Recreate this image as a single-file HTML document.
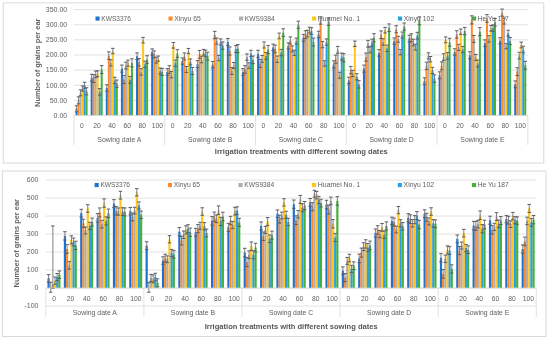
<!DOCTYPE html><html><head><meta charset="utf-8"><title>Grains per ear</title><style>html,body{margin:0;padding:0;background:#fff}svg{display:block}</style></head><body>
<svg width="550" height="342" viewBox="0 0 550 342">
<rect width="550" height="342" fill="#fff"/>
<defs><filter id="soft" x="0" y="0" width="550" height="342" filterUnits="userSpaceOnUse"><feGaussianBlur stdDeviation="0.25"/></filter></defs>
<g filter="url(#soft)">
<rect x="3.3" y="2.9" width="540.50" height="160.10" fill="#fff" stroke="#d9d9d9" stroke-width="1"/>
<line x1="74.0" x2="527.8" y1="115.50" y2="115.50" stroke="#d9d9d9" stroke-width="0.8"/>
<text x="67.2" y="117.85" text-anchor="end" font-size="7" fill="#5e5e5e" font-family="'Liberation Sans', sans-serif">0.00</text>
<line x1="74.0" x2="527.8" y1="100.37" y2="100.37" stroke="#d9d9d9" stroke-width="0.8"/>
<text x="67.2" y="102.72" text-anchor="end" font-size="7" fill="#5e5e5e" font-family="'Liberation Sans', sans-serif">50.00</text>
<line x1="74.0" x2="527.8" y1="85.24" y2="85.24" stroke="#d9d9d9" stroke-width="0.8"/>
<text x="67.2" y="87.59" text-anchor="end" font-size="7" fill="#5e5e5e" font-family="'Liberation Sans', sans-serif">100.00</text>
<line x1="74.0" x2="527.8" y1="70.11" y2="70.11" stroke="#d9d9d9" stroke-width="0.8"/>
<text x="67.2" y="72.46" text-anchor="end" font-size="7" fill="#5e5e5e" font-family="'Liberation Sans', sans-serif">150.00</text>
<line x1="74.0" x2="527.8" y1="54.98" y2="54.98" stroke="#d9d9d9" stroke-width="0.8"/>
<text x="67.2" y="57.33" text-anchor="end" font-size="7" fill="#5e5e5e" font-family="'Liberation Sans', sans-serif">200.00</text>
<line x1="74.0" x2="527.8" y1="39.85" y2="39.85" stroke="#d9d9d9" stroke-width="0.8"/>
<text x="67.2" y="42.20" text-anchor="end" font-size="7" fill="#5e5e5e" font-family="'Liberation Sans', sans-serif">250.00</text>
<line x1="74.0" x2="527.8" y1="24.72" y2="24.72" stroke="#d9d9d9" stroke-width="0.8"/>
<text x="67.2" y="27.07" text-anchor="end" font-size="7" fill="#5e5e5e" font-family="'Liberation Sans', sans-serif">300.00</text>
<line x1="74.0" x2="527.8" y1="9.59" y2="9.59" stroke="#d9d9d9" stroke-width="0.8"/>
<text x="67.2" y="11.94" text-anchor="end" font-size="7" fill="#5e5e5e" font-family="'Liberation Sans', sans-serif">350.00</text>
<rect x="95.5" y="16.5" width="4.1" height="4.1" fill="#1b72d0"/>
<text x="101.30" y="20.90" font-size="7.2" fill="#5e5e5e" textLength="29.6" lengthAdjust="spacingAndGlyphs" font-family="'Liberation Sans', sans-serif">KWS3376</text>
<rect x="168.5" y="16.5" width="4.1" height="4.1" fill="#ff8a2a"/>
<text x="174.30" y="20.90" font-size="7.2" fill="#5e5e5e" textLength="26.4" lengthAdjust="spacingAndGlyphs" font-family="'Liberation Sans', sans-serif">Xinyu 65</text>
<rect x="239" y="16.5" width="4.1" height="4.1" fill="#adadb2"/>
<text x="244.80" y="20.90" font-size="7.2" fill="#5e5e5e" textLength="29.9" lengthAdjust="spacingAndGlyphs" font-family="'Liberation Sans', sans-serif">KWS9384</text>
<rect x="312" y="16.5" width="4.1" height="4.1" fill="#ffc61a"/>
<text x="317.80" y="20.90" font-size="7.2" fill="#5e5e5e" textLength="42.4" lengthAdjust="spacingAndGlyphs" font-family="'Liberation Sans', sans-serif">Huamei No. 1</text>
<rect x="398" y="16.5" width="4.1" height="4.1" fill="#2a9fe8"/>
<text x="403.80" y="20.90" font-size="7.2" fill="#5e5e5e" textLength="30.4" lengthAdjust="spacingAndGlyphs" font-family="'Liberation Sans', sans-serif">Xinyu 102</text>
<rect x="472" y="16.5" width="4.1" height="4.1" fill="#44b040"/>
<text x="477.80" y="20.90" font-size="7.2" fill="#5e5e5e" textLength="31.0" lengthAdjust="spacingAndGlyphs" font-family="'Liberation Sans', sans-serif">He Yu 187</text>
<rect x="75.55" y="108.84" width="2.00" height="6.66" fill="#1b72d0"/><rect x="77.55" y="100.37" width="2.00" height="15.13" fill="#ff8a2a"/><rect x="79.56" y="92.81" width="2.00" height="22.69" fill="#adadb2"/><rect x="81.56" y="88.57" width="2.00" height="26.93" fill="#ffc61a"/><rect x="83.57" y="85.24" width="2.00" height="30.26" fill="#2a9fe8"/><rect x="85.57" y="91.29" width="2.00" height="24.21" fill="#44b040"/><rect x="90.68" y="77.68" width="2.00" height="37.82" fill="#1b72d0"/><rect x="92.68" y="78.58" width="2.00" height="36.92" fill="#ff8a2a"/><rect x="94.69" y="74.35" width="2.00" height="41.15" fill="#adadb2"/><rect x="96.69" y="73.74" width="2.00" height="41.76" fill="#ffc61a"/><rect x="98.69" y="91.90" width="2.00" height="23.60" fill="#2a9fe8"/><rect x="100.70" y="69.50" width="2.00" height="46.00" fill="#44b040"/><rect x="105.80" y="87.96" width="2.00" height="27.54" fill="#1b72d0"/><rect x="107.81" y="55.59" width="2.00" height="59.91" fill="#ff8a2a"/><rect x="109.81" y="62.85" width="2.00" height="52.65" fill="#adadb2"/><rect x="111.82" y="51.05" width="2.00" height="64.45" fill="#ffc61a"/><rect x="113.82" y="80.40" width="2.00" height="35.10" fill="#2a9fe8"/><rect x="115.83" y="83.73" width="2.00" height="31.77" fill="#44b040"/><rect x="120.93" y="68.60" width="2.00" height="46.90" fill="#1b72d0"/><rect x="122.93" y="79.49" width="2.00" height="36.01" fill="#ff8a2a"/><rect x="124.94" y="65.57" width="2.00" height="49.93" fill="#adadb2"/><rect x="126.94" y="63.15" width="2.00" height="52.35" fill="#ffc61a"/><rect x="128.95" y="79.79" width="2.00" height="35.71" fill="#2a9fe8"/><rect x="130.95" y="62.85" width="2.00" height="52.65" fill="#44b040"/><rect x="136.06" y="56.19" width="2.00" height="59.31" fill="#1b72d0"/><rect x="138.06" y="62.24" width="2.00" height="53.26" fill="#ff8a2a"/><rect x="140.07" y="71.93" width="2.00" height="43.57" fill="#adadb2"/><rect x="142.07" y="40.15" width="2.00" height="75.35" fill="#ffc61a"/><rect x="144.07" y="64.36" width="2.00" height="51.14" fill="#2a9fe8"/><rect x="146.08" y="59.52" width="2.00" height="55.98" fill="#44b040"/><rect x="151.18" y="51.95" width="2.00" height="63.55" fill="#1b72d0"/><rect x="153.19" y="54.37" width="2.00" height="61.13" fill="#ff8a2a"/><rect x="155.19" y="60.12" width="2.00" height="55.38" fill="#adadb2"/><rect x="157.20" y="58.61" width="2.00" height="56.89" fill="#ffc61a"/><rect x="159.20" y="71.02" width="2.00" height="44.48" fill="#2a9fe8"/><rect x="161.21" y="71.93" width="2.00" height="43.57" fill="#44b040"/><rect x="166.31" y="71.93" width="2.00" height="43.57" fill="#1b72d0"/><rect x="168.31" y="69.50" width="2.00" height="46.00" fill="#ff8a2a"/><rect x="170.32" y="74.65" width="2.00" height="40.85" fill="#adadb2"/><rect x="172.32" y="45.30" width="2.00" height="70.20" fill="#ffc61a"/><rect x="174.33" y="63.15" width="2.00" height="52.35" fill="#2a9fe8"/><rect x="176.33" y="53.47" width="2.00" height="62.03" fill="#44b040"/><rect x="181.44" y="61.03" width="2.00" height="54.47" fill="#1b72d0"/><rect x="183.44" y="56.49" width="2.00" height="59.01" fill="#ff8a2a"/><rect x="185.45" y="69.50" width="2.00" height="46.00" fill="#adadb2"/><rect x="187.45" y="51.05" width="2.00" height="64.45" fill="#ffc61a"/><rect x="189.45" y="61.94" width="2.00" height="53.56" fill="#2a9fe8"/><rect x="191.46" y="71.02" width="2.00" height="44.48" fill="#44b040"/><rect x="196.56" y="64.06" width="2.00" height="51.44" fill="#1b72d0"/><rect x="198.57" y="54.37" width="2.00" height="61.13" fill="#ff8a2a"/><rect x="200.57" y="59.52" width="2.00" height="55.98" fill="#adadb2"/><rect x="202.58" y="52.26" width="2.00" height="63.24" fill="#ffc61a"/><rect x="204.58" y="53.47" width="2.00" height="62.03" fill="#2a9fe8"/><rect x="206.59" y="56.19" width="2.00" height="59.31" fill="#44b040"/><rect x="211.69" y="64.66" width="2.00" height="50.84" fill="#1b72d0"/><rect x="213.69" y="35.01" width="2.00" height="80.49" fill="#ff8a2a"/><rect x="215.70" y="41.06" width="2.00" height="74.44" fill="#adadb2"/><rect x="217.70" y="58.01" width="2.00" height="57.49" fill="#ffc61a"/><rect x="219.71" y="41.97" width="2.00" height="73.53" fill="#2a9fe8"/><rect x="221.71" y="45.60" width="2.00" height="69.90" fill="#44b040"/><rect x="226.82" y="41.97" width="2.00" height="73.53" fill="#1b72d0"/><rect x="228.82" y="51.05" width="2.00" height="64.45" fill="#ff8a2a"/><rect x="230.83" y="71.02" width="2.00" height="44.48" fill="#adadb2"/><rect x="232.83" y="65.57" width="2.00" height="49.93" fill="#ffc61a"/><rect x="234.83" y="48.93" width="2.00" height="66.57" fill="#2a9fe8"/><rect x="236.84" y="48.63" width="2.00" height="66.87" fill="#44b040"/><rect x="241.94" y="71.93" width="2.00" height="43.57" fill="#1b72d0"/><rect x="243.95" y="69.50" width="2.00" height="46.00" fill="#ff8a2a"/><rect x="245.95" y="57.10" width="2.00" height="58.40" fill="#adadb2"/><rect x="247.96" y="65.57" width="2.00" height="49.93" fill="#ffc61a"/><rect x="249.96" y="53.47" width="2.00" height="62.03" fill="#2a9fe8"/><rect x="251.97" y="59.82" width="2.00" height="55.68" fill="#44b040"/><rect x="257.07" y="53.77" width="2.00" height="61.73" fill="#1b72d0"/><rect x="259.07" y="63.45" width="2.00" height="52.05" fill="#ff8a2a"/><rect x="261.08" y="58.91" width="2.00" height="56.59" fill="#adadb2"/><rect x="263.08" y="44.99" width="2.00" height="70.51" fill="#ffc61a"/><rect x="265.09" y="55.89" width="2.00" height="59.61" fill="#2a9fe8"/><rect x="267.09" y="49.53" width="2.00" height="65.97" fill="#44b040"/><rect x="272.20" y="47.42" width="2.00" height="68.08" fill="#1b72d0"/><rect x="274.20" y="48.93" width="2.00" height="66.57" fill="#ff8a2a"/><rect x="276.21" y="59.22" width="2.00" height="56.28" fill="#adadb2"/><rect x="278.21" y="35.92" width="2.00" height="79.58" fill="#ffc61a"/><rect x="280.21" y="52.56" width="2.00" height="62.94" fill="#2a9fe8"/><rect x="282.22" y="32.59" width="2.00" height="82.91" fill="#44b040"/><rect x="287.32" y="45.90" width="2.00" height="69.60" fill="#1b72d0"/><rect x="289.33" y="40.46" width="2.00" height="75.04" fill="#ff8a2a"/><rect x="291.33" y="48.93" width="2.00" height="66.57" fill="#adadb2"/><rect x="293.34" y="52.86" width="2.00" height="62.64" fill="#ffc61a"/><rect x="295.34" y="41.06" width="2.00" height="74.44" fill="#2a9fe8"/><rect x="297.35" y="24.72" width="2.00" height="90.78" fill="#44b040"/><rect x="302.45" y="37.73" width="2.00" height="77.77" fill="#1b72d0"/><rect x="304.45" y="34.71" width="2.00" height="80.79" fill="#ff8a2a"/><rect x="306.46" y="33.50" width="2.00" height="82.00" fill="#adadb2"/><rect x="308.46" y="30.17" width="2.00" height="85.33" fill="#ffc61a"/><rect x="310.47" y="31.07" width="2.00" height="84.43" fill="#2a9fe8"/><rect x="312.47" y="41.97" width="2.00" height="73.53" fill="#44b040"/><rect x="317.58" y="34.40" width="2.00" height="81.10" fill="#1b72d0"/><rect x="319.58" y="20.48" width="2.00" height="95.02" fill="#ff8a2a"/><rect x="321.59" y="44.69" width="2.00" height="70.81" fill="#adadb2"/><rect x="323.59" y="63.45" width="2.00" height="52.05" fill="#ffc61a"/><rect x="325.59" y="41.97" width="2.00" height="73.53" fill="#2a9fe8"/><rect x="327.60" y="21.69" width="2.00" height="93.81" fill="#44b040"/><rect x="332.70" y="64.36" width="2.00" height="51.14" fill="#1b72d0"/><rect x="334.71" y="59.22" width="2.00" height="56.28" fill="#ff8a2a"/><rect x="336.71" y="49.84" width="2.00" height="65.66" fill="#adadb2"/><rect x="338.72" y="75.25" width="2.00" height="40.25" fill="#ffc61a"/><rect x="340.72" y="56.49" width="2.00" height="59.01" fill="#2a9fe8"/><rect x="342.73" y="57.70" width="2.00" height="57.80" fill="#44b040"/><rect x="347.83" y="80.40" width="2.00" height="35.10" fill="#1b72d0"/><rect x="349.83" y="70.11" width="2.00" height="45.39" fill="#ff8a2a"/><rect x="351.84" y="73.44" width="2.00" height="42.06" fill="#adadb2"/><rect x="353.84" y="43.78" width="2.00" height="71.72" fill="#ffc61a"/><rect x="355.85" y="76.77" width="2.00" height="38.73" fill="#2a9fe8"/><rect x="357.85" y="84.33" width="2.00" height="31.17" fill="#44b040"/><rect x="362.96" y="68.60" width="2.00" height="46.90" fill="#1b72d0"/><rect x="364.96" y="57.10" width="2.00" height="58.40" fill="#ff8a2a"/><rect x="366.97" y="43.78" width="2.00" height="71.72" fill="#adadb2"/><rect x="368.97" y="49.84" width="2.00" height="65.66" fill="#ffc61a"/><rect x="370.97" y="42.57" width="2.00" height="72.93" fill="#2a9fe8"/><rect x="372.98" y="37.73" width="2.00" height="77.77" fill="#44b040"/><rect x="378.08" y="52.86" width="2.00" height="62.64" fill="#1b72d0"/><rect x="380.09" y="34.71" width="2.00" height="80.79" fill="#ff8a2a"/><rect x="382.09" y="41.97" width="2.00" height="73.53" fill="#adadb2"/><rect x="384.10" y="30.17" width="2.00" height="85.33" fill="#ffc61a"/><rect x="386.10" y="48.32" width="2.00" height="67.18" fill="#2a9fe8"/><rect x="388.11" y="27.75" width="2.00" height="87.75" fill="#44b040"/><rect x="393.21" y="41.06" width="2.00" height="74.44" fill="#1b72d0"/><rect x="395.21" y="29.26" width="2.00" height="86.24" fill="#ff8a2a"/><rect x="397.22" y="39.24" width="2.00" height="76.26" fill="#adadb2"/><rect x="399.22" y="52.26" width="2.00" height="63.24" fill="#ffc61a"/><rect x="401.23" y="35.01" width="2.00" height="80.49" fill="#2a9fe8"/><rect x="403.23" y="26.54" width="2.00" height="88.96" fill="#44b040"/><rect x="408.34" y="38.64" width="2.00" height="76.86" fill="#1b72d0"/><rect x="410.34" y="37.73" width="2.00" height="77.77" fill="#ff8a2a"/><rect x="412.35" y="42.57" width="2.00" height="72.93" fill="#adadb2"/><rect x="414.35" y="47.11" width="2.00" height="68.39" fill="#ffc61a"/><rect x="416.35" y="35.61" width="2.00" height="79.89" fill="#2a9fe8"/><rect x="418.36" y="20.79" width="2.00" height="94.71" fill="#44b040"/><rect x="423.46" y="81.00" width="2.00" height="34.50" fill="#1b72d0"/><rect x="425.47" y="65.87" width="2.00" height="49.63" fill="#ff8a2a"/><rect x="427.47" y="55.89" width="2.00" height="59.61" fill="#adadb2"/><rect x="429.48" y="59.22" width="2.00" height="56.28" fill="#ffc61a"/><rect x="431.48" y="70.41" width="2.00" height="45.09" fill="#2a9fe8"/><rect x="433.49" y="78.58" width="2.00" height="36.92" fill="#44b040"/><rect x="438.59" y="75.25" width="2.00" height="40.25" fill="#1b72d0"/><rect x="440.59" y="65.87" width="2.00" height="49.63" fill="#ff8a2a"/><rect x="442.60" y="57.10" width="2.00" height="58.40" fill="#adadb2"/><rect x="444.60" y="39.85" width="2.00" height="75.65" fill="#ffc61a"/><rect x="446.61" y="55.89" width="2.00" height="59.61" fill="#2a9fe8"/><rect x="448.61" y="42.27" width="2.00" height="73.23" fill="#44b040"/><rect x="453.72" y="51.95" width="2.00" height="63.55" fill="#1b72d0"/><rect x="455.72" y="34.40" width="2.00" height="81.10" fill="#ff8a2a"/><rect x="457.73" y="47.42" width="2.00" height="68.08" fill="#adadb2"/><rect x="459.73" y="31.68" width="2.00" height="83.82" fill="#ffc61a"/><rect x="461.73" y="49.53" width="2.00" height="65.97" fill="#2a9fe8"/><rect x="463.74" y="31.07" width="2.00" height="84.43" fill="#44b040"/><rect x="468.84" y="55.28" width="2.00" height="60.22" fill="#1b72d0"/><rect x="470.85" y="19.88" width="2.00" height="95.62" fill="#ff8a2a"/><rect x="472.85" y="38.94" width="2.00" height="76.56" fill="#adadb2"/><rect x="474.86" y="57.40" width="2.00" height="58.10" fill="#ffc61a"/><rect x="476.86" y="63.45" width="2.00" height="52.05" fill="#2a9fe8"/><rect x="478.87" y="31.68" width="2.00" height="83.82" fill="#44b040"/><rect x="483.97" y="43.18" width="2.00" height="72.32" fill="#1b72d0"/><rect x="485.97" y="18.37" width="2.00" height="97.13" fill="#ff8a2a"/><rect x="487.98" y="38.94" width="2.00" height="76.56" fill="#adadb2"/><rect x="489.98" y="28.35" width="2.00" height="87.15" fill="#ffc61a"/><rect x="491.99" y="28.05" width="2.00" height="87.45" fill="#2a9fe8"/><rect x="493.99" y="22.30" width="2.00" height="93.20" fill="#44b040"/><rect x="499.10" y="40.76" width="2.00" height="74.74" fill="#1b72d0"/><rect x="501.10" y="12.62" width="2.00" height="102.88" fill="#ff8a2a"/><rect x="503.11" y="21.09" width="2.00" height="94.41" fill="#adadb2"/><rect x="505.11" y="46.20" width="2.00" height="69.30" fill="#ffc61a"/><rect x="507.11" y="33.19" width="2.00" height="82.31" fill="#2a9fe8"/><rect x="509.12" y="41.06" width="2.00" height="74.44" fill="#44b040"/><rect x="514.22" y="84.33" width="2.00" height="31.17" fill="#1b72d0"/><rect x="516.23" y="71.62" width="2.00" height="43.88" fill="#ff8a2a"/><rect x="518.23" y="55.59" width="2.00" height="59.91" fill="#adadb2"/><rect x="520.24" y="44.99" width="2.00" height="70.51" fill="#ffc61a"/><rect x="522.24" y="49.53" width="2.00" height="65.97" fill="#2a9fe8"/><rect x="524.25" y="65.27" width="2.00" height="50.23" fill="#44b040"/>
<path d="M76.55 105.77V111.91M78.56 96.84V103.90M80.56 89.83V95.78M82.57 85.96V91.17M84.57 82.26V88.22M86.57 87.76V94.83M91.68 74.26V81.09M93.68 74.65V82.52M95.69 71.03V77.66M97.69 70.84V76.64M99.70 88.59V95.21M101.70 65.57V73.44M106.81 84.78V91.15M108.81 51.92V59.25M110.81 59.76V65.94M112.82 48.34V53.75M114.82 77.31V83.49M116.83 80.06V87.39M121.93 65.07V72.13M123.94 75.42V83.56M125.94 62.15V69.00M127.95 60.15V66.15M129.95 76.37V83.22M131.95 58.78V66.91M137.06 52.89V59.49M139.06 58.44V66.04M141.07 68.73V75.13M143.07 37.35V42.95M145.08 61.16V67.56M147.08 55.72V63.32M152.19 48.89V55.02M154.19 50.84V57.91M156.19 57.15V63.10M158.20 56.01V61.22M160.20 68.04V73.99M162.21 68.39V75.46M167.31 68.63V75.23M169.32 65.70V73.30M171.32 71.45V77.85M173.33 42.50V48.10M175.33 59.95V66.35M177.33 49.67V57.27M182.44 57.96V64.10M184.44 52.96V60.03M186.45 66.53V72.48M188.45 48.44V53.65M190.46 58.96V64.92M192.46 67.48V74.55M197.57 60.64V67.47M199.57 50.44V58.31M201.57 56.21V62.83M203.58 49.36V55.15M205.58 50.16V56.78M207.59 52.26V60.12M212.69 61.48V67.85M214.70 31.34V38.68M216.70 37.97V44.15M218.71 55.30V60.71M220.71 38.88V45.06M222.71 41.93V49.27M227.82 38.44V45.50M229.82 46.98V55.11M231.83 67.59V74.44M233.83 62.57V68.57M235.84 45.50V52.35M237.84 44.56V52.69M242.95 68.63V75.23M244.95 65.70V73.30M246.95 53.90V60.30M248.96 62.77V68.37M250.96 50.27V56.67M252.97 56.02V63.62M258.07 50.24V57.30M260.08 59.39V67.52M262.08 55.49V62.34M264.09 42.00V47.99M266.09 52.46V59.31M268.09 45.47V53.60M273.20 44.12V50.72M275.20 45.13V52.73M277.21 56.02V62.42M279.21 33.12V38.72M281.22 49.36V55.76M283.22 28.79V36.39M288.33 42.83V48.97M290.33 36.92V43.99M292.33 45.95V51.90M294.34 50.26V55.47M296.34 38.08V44.04M298.35 21.19V28.25M303.45 34.32V41.15M305.46 30.77V38.64M307.46 30.18V36.81M309.47 27.27V33.06M311.47 27.76V34.39M313.47 38.04V45.90M318.58 31.22V37.59M320.58 16.82V24.15M322.59 41.60V47.78M324.59 60.75V66.15M326.60 38.88V45.06M328.60 18.03V25.36M333.71 60.83V67.89M335.71 55.15V63.28M337.71 46.41V53.26M339.72 72.26V78.25M341.72 53.07V59.92M343.73 53.64V61.77M348.83 77.21V83.58M350.84 66.44V73.78M352.84 70.35V76.53M354.85 41.08V46.49M356.85 73.68V79.86M358.85 80.67V88.00M363.96 65.07V72.13M365.96 53.03V61.16M367.97 40.36V47.21M369.97 46.84V52.83M371.98 39.15V46.00M373.98 33.67V41.80M379.09 49.56V56.16M381.09 30.91V38.51M383.09 38.77V45.17M385.10 27.37V32.97M387.10 45.12V51.52M389.11 23.95V31.55M394.21 37.99V44.13M396.22 25.73V32.79M398.22 36.27V42.22M400.23 49.65V54.86M402.23 32.03V37.98M404.23 23.00V30.07M409.34 35.22V42.06M411.34 33.80V41.66M413.35 39.26V45.89M415.35 44.21V50.01M417.36 32.30V38.93M419.36 16.85V24.72M424.47 77.82V84.19M426.47 62.21V69.54M428.47 52.80V58.98M430.48 56.51V61.92M432.48 67.32V73.50M434.49 74.92V82.25M439.59 71.84V78.67M441.60 61.94V69.81M443.60 53.79V60.41M445.61 36.95V42.75M447.61 52.58V59.20M449.61 38.34V46.20M454.72 48.77V55.14M456.72 30.74V38.07M458.73 44.33V50.50M460.73 28.98V34.38M462.74 46.45V52.62M464.74 27.41V34.74M469.85 51.75V58.81M471.85 15.81V23.94M473.85 35.52V42.37M475.86 54.40V60.40M477.86 60.03V66.88M479.87 27.61V35.75M484.97 39.88V46.48M486.98 14.57V22.17M488.98 35.74V42.14M490.99 25.55V31.15M492.99 24.85V31.25M494.99 18.50V26.10M500.10 37.69V43.83M502.10 9.08V16.15M504.11 18.11V24.06M506.11 43.60V48.81M508.12 30.22V36.17M510.12 37.53V44.59M515.23 80.92V87.75M517.23 67.69V75.56M519.23 52.27V58.90M521.24 42.10V47.89M523.24 46.22V52.85M525.25 61.34V69.20" stroke="#74747c" stroke-width="0.9" fill="none"/>
<path d="M74.80 105.77h3.5M74.80 111.91h3.5M76.81 96.84h3.5M76.81 103.90h3.5M78.81 89.83h3.5M78.81 95.78h3.5M80.82 85.96h3.5M80.82 91.17h3.5M82.82 82.26h3.5M82.82 88.22h3.5M84.82 87.76h3.5M84.82 94.83h3.5M89.93 74.26h3.5M89.93 81.09h3.5M91.93 74.65h3.5M91.93 82.52h3.5M93.94 71.03h3.5M93.94 77.66h3.5M95.94 70.84h3.5M95.94 76.64h3.5M97.95 88.59h3.5M97.95 95.21h3.5M99.95 65.57h3.5M99.95 73.44h3.5M105.06 84.78h3.5M105.06 91.15h3.5M107.06 51.92h3.5M107.06 59.25h3.5M109.06 59.76h3.5M109.06 65.94h3.5M111.07 48.34h3.5M111.07 53.75h3.5M113.07 77.31h3.5M113.07 83.49h3.5M115.08 80.06h3.5M115.08 87.39h3.5M120.18 65.07h3.5M120.18 72.13h3.5M122.19 75.42h3.5M122.19 83.56h3.5M124.19 62.15h3.5M124.19 69.00h3.5M126.20 60.15h3.5M126.20 66.15h3.5M128.20 76.37h3.5M128.20 83.22h3.5M130.20 58.78h3.5M130.20 66.91h3.5M135.31 52.89h3.5M135.31 59.49h3.5M137.31 58.44h3.5M137.31 66.04h3.5M139.32 68.73h3.5M139.32 75.13h3.5M141.32 37.35h3.5M141.32 42.95h3.5M143.33 61.16h3.5M143.33 67.56h3.5M145.33 55.72h3.5M145.33 63.32h3.5M150.44 48.89h3.5M150.44 55.02h3.5M152.44 50.84h3.5M152.44 57.91h3.5M154.44 57.15h3.5M154.44 63.10h3.5M156.45 56.01h3.5M156.45 61.22h3.5M158.45 68.04h3.5M158.45 73.99h3.5M160.46 68.39h3.5M160.46 75.46h3.5M165.56 68.63h3.5M165.56 75.23h3.5M167.57 65.70h3.5M167.57 73.30h3.5M169.57 71.45h3.5M169.57 77.85h3.5M171.58 42.50h3.5M171.58 48.10h3.5M173.58 59.95h3.5M173.58 66.35h3.5M175.58 49.67h3.5M175.58 57.27h3.5M180.69 57.96h3.5M180.69 64.10h3.5M182.69 52.96h3.5M182.69 60.03h3.5M184.70 66.53h3.5M184.70 72.48h3.5M186.70 48.44h3.5M186.70 53.65h3.5M188.71 58.96h3.5M188.71 64.92h3.5M190.71 67.48h3.5M190.71 74.55h3.5M195.82 60.64h3.5M195.82 67.47h3.5M197.82 50.44h3.5M197.82 58.31h3.5M199.82 56.21h3.5M199.82 62.83h3.5M201.83 49.36h3.5M201.83 55.15h3.5M203.83 50.16h3.5M203.83 56.78h3.5M205.84 52.26h3.5M205.84 60.12h3.5M210.94 61.48h3.5M210.94 67.85h3.5M212.95 31.34h3.5M212.95 38.68h3.5M214.95 37.97h3.5M214.95 44.15h3.5M216.96 55.30h3.5M216.96 60.71h3.5M218.96 38.88h3.5M218.96 45.06h3.5M220.96 41.93h3.5M220.96 49.27h3.5M226.07 38.44h3.5M226.07 45.50h3.5M228.07 46.98h3.5M228.07 55.11h3.5M230.08 67.59h3.5M230.08 74.44h3.5M232.08 62.57h3.5M232.08 68.57h3.5M234.09 45.50h3.5M234.09 52.35h3.5M236.09 44.56h3.5M236.09 52.69h3.5M241.20 68.63h3.5M241.20 75.23h3.5M243.20 65.70h3.5M243.20 73.30h3.5M245.20 53.90h3.5M245.20 60.30h3.5M247.21 62.77h3.5M247.21 68.37h3.5M249.21 50.27h3.5M249.21 56.67h3.5M251.22 56.02h3.5M251.22 63.62h3.5M256.32 50.24h3.5M256.32 57.30h3.5M258.33 59.39h3.5M258.33 67.52h3.5M260.33 55.49h3.5M260.33 62.34h3.5M262.34 42.00h3.5M262.34 47.99h3.5M264.34 52.46h3.5M264.34 59.31h3.5M266.34 45.47h3.5M266.34 53.60h3.5M271.45 44.12h3.5M271.45 50.72h3.5M273.45 45.13h3.5M273.45 52.73h3.5M275.46 56.02h3.5M275.46 62.42h3.5M277.46 33.12h3.5M277.46 38.72h3.5M279.47 49.36h3.5M279.47 55.76h3.5M281.47 28.79h3.5M281.47 36.39h3.5M286.58 42.83h3.5M286.58 48.97h3.5M288.58 36.92h3.5M288.58 43.99h3.5M290.58 45.95h3.5M290.58 51.90h3.5M292.59 50.26h3.5M292.59 55.47h3.5M294.59 38.08h3.5M294.59 44.04h3.5M296.60 21.19h3.5M296.60 28.25h3.5M301.70 34.32h3.5M301.70 41.15h3.5M303.71 30.77h3.5M303.71 38.64h3.5M305.71 30.18h3.5M305.71 36.81h3.5M307.72 27.27h3.5M307.72 33.06h3.5M309.72 27.76h3.5M309.72 34.39h3.5M311.72 38.04h3.5M311.72 45.90h3.5M316.83 31.22h3.5M316.83 37.59h3.5M318.83 16.82h3.5M318.83 24.15h3.5M320.84 41.60h3.5M320.84 47.78h3.5M322.84 60.75h3.5M322.84 66.15h3.5M324.85 38.88h3.5M324.85 45.06h3.5M326.85 18.03h3.5M326.85 25.36h3.5M331.96 60.83h3.5M331.96 67.89h3.5M333.96 55.15h3.5M333.96 63.28h3.5M335.96 46.41h3.5M335.96 53.26h3.5M337.97 72.26h3.5M337.97 78.25h3.5M339.97 53.07h3.5M339.97 59.92h3.5M341.98 53.64h3.5M341.98 61.77h3.5M347.08 77.21h3.5M347.08 83.58h3.5M349.09 66.44h3.5M349.09 73.78h3.5M351.09 70.35h3.5M351.09 76.53h3.5M353.10 41.08h3.5M353.10 46.49h3.5M355.10 73.68h3.5M355.10 79.86h3.5M357.10 80.67h3.5M357.10 88.00h3.5M362.21 65.07h3.5M362.21 72.13h3.5M364.21 53.03h3.5M364.21 61.16h3.5M366.22 40.36h3.5M366.22 47.21h3.5M368.22 46.84h3.5M368.22 52.83h3.5M370.23 39.15h3.5M370.23 46.00h3.5M372.23 33.67h3.5M372.23 41.80h3.5M377.34 49.56h3.5M377.34 56.16h3.5M379.34 30.91h3.5M379.34 38.51h3.5M381.34 38.77h3.5M381.34 45.17h3.5M383.35 27.37h3.5M383.35 32.97h3.5M385.35 45.12h3.5M385.35 51.52h3.5M387.36 23.95h3.5M387.36 31.55h3.5M392.46 37.99h3.5M392.46 44.13h3.5M394.47 25.73h3.5M394.47 32.79h3.5M396.47 36.27h3.5M396.47 42.22h3.5M398.48 49.65h3.5M398.48 54.86h3.5M400.48 32.03h3.5M400.48 37.98h3.5M402.48 23.00h3.5M402.48 30.07h3.5M407.59 35.22h3.5M407.59 42.06h3.5M409.59 33.80h3.5M409.59 41.66h3.5M411.60 39.26h3.5M411.60 45.89h3.5M413.60 44.21h3.5M413.60 50.01h3.5M415.61 32.30h3.5M415.61 38.93h3.5M417.61 16.85h3.5M417.61 24.72h3.5M422.72 77.82h3.5M422.72 84.19h3.5M424.72 62.21h3.5M424.72 69.54h3.5M426.72 52.80h3.5M426.72 58.98h3.5M428.73 56.51h3.5M428.73 61.92h3.5M430.73 67.32h3.5M430.73 73.50h3.5M432.74 74.92h3.5M432.74 82.25h3.5M437.84 71.84h3.5M437.84 78.67h3.5M439.85 61.94h3.5M439.85 69.81h3.5M441.85 53.79h3.5M441.85 60.41h3.5M443.86 36.95h3.5M443.86 42.75h3.5M445.86 52.58h3.5M445.86 59.20h3.5M447.86 38.34h3.5M447.86 46.20h3.5M452.97 48.77h3.5M452.97 55.14h3.5M454.97 30.74h3.5M454.97 38.07h3.5M456.98 44.33h3.5M456.98 50.50h3.5M458.98 28.98h3.5M458.98 34.38h3.5M460.99 46.45h3.5M460.99 52.62h3.5M462.99 27.41h3.5M462.99 34.74h3.5M468.10 51.75h3.5M468.10 58.81h3.5M470.10 15.81h3.5M470.10 23.94h3.5M472.10 35.52h3.5M472.10 42.37h3.5M474.11 54.40h3.5M474.11 60.40h3.5M476.11 60.03h3.5M476.11 66.88h3.5M478.12 27.61h3.5M478.12 35.75h3.5M483.22 39.88h3.5M483.22 46.48h3.5M485.23 14.57h3.5M485.23 22.17h3.5M487.23 35.74h3.5M487.23 42.14h3.5M489.24 25.55h3.5M489.24 31.15h3.5M491.24 24.85h3.5M491.24 31.25h3.5M493.24 18.50h3.5M493.24 26.10h3.5M498.35 37.69h3.5M498.35 43.83h3.5M500.35 9.08h3.5M500.35 16.15h3.5M502.36 18.11h3.5M502.36 24.06h3.5M504.36 43.60h3.5M504.36 48.81h3.5M506.37 30.22h3.5M506.37 36.17h3.5M508.37 37.53h3.5M508.37 44.59h3.5M513.48 80.92h3.5M513.48 87.75h3.5M515.48 67.69h3.5M515.48 75.56h3.5M517.48 52.27h3.5M517.48 58.90h3.5M519.49 42.10h3.5M519.49 47.89h3.5M521.49 46.22h3.5M521.49 52.85h3.5M523.50 61.34h3.5M523.50 69.20h3.5" stroke="#5c5c62" stroke-width="1" fill="none"/>
<line x1="74.0" x2="527.8" y1="115.50" y2="115.50" stroke="#d9d9d9" stroke-width="0.8"/>
<line x1="74.00" x2="74.00" y1="115.50" y2="145" stroke="#d9d9d9" stroke-width="0.8"/>
<line x1="164.76" x2="164.76" y1="115.50" y2="145" stroke="#d9d9d9" stroke-width="0.8"/>
<line x1="255.52" x2="255.52" y1="115.50" y2="145" stroke="#d9d9d9" stroke-width="0.8"/>
<line x1="346.28" x2="346.28" y1="115.50" y2="145" stroke="#d9d9d9" stroke-width="0.8"/>
<line x1="437.04" x2="437.04" y1="115.50" y2="145" stroke="#d9d9d9" stroke-width="0.8"/>
<line x1="527.80" x2="527.80" y1="115.50" y2="145" stroke="#d9d9d9" stroke-width="0.8"/>
<text x="81.76" y="127.85" text-anchor="middle" font-size="6.75" fill="#5e5e5e" font-family="'Liberation Sans', sans-serif">0</text>
<text x="96.89" y="127.85" text-anchor="middle" font-size="6.75" fill="#5e5e5e" font-family="'Liberation Sans', sans-serif">20</text>
<text x="112.02" y="127.85" text-anchor="middle" font-size="6.75" fill="#5e5e5e" font-family="'Liberation Sans', sans-serif">40</text>
<text x="127.14" y="127.85" text-anchor="middle" font-size="6.75" fill="#5e5e5e" font-family="'Liberation Sans', sans-serif">60</text>
<text x="142.27" y="127.85" text-anchor="middle" font-size="6.75" fill="#5e5e5e" font-family="'Liberation Sans', sans-serif">80</text>
<text x="157.40" y="127.85" text-anchor="middle" font-size="6.75" fill="#5e5e5e" font-family="'Liberation Sans', sans-serif">100</text>
<text x="119.38" y="142.35" text-anchor="middle" font-size="6.9" textLength="44.2" lengthAdjust="spacingAndGlyphs" fill="#5e5e5e" font-family="'Liberation Sans', sans-serif">Sowing date A</text>
<text x="172.52" y="127.85" text-anchor="middle" font-size="6.75" fill="#5e5e5e" font-family="'Liberation Sans', sans-serif">0</text>
<text x="187.65" y="127.85" text-anchor="middle" font-size="6.75" fill="#5e5e5e" font-family="'Liberation Sans', sans-serif">20</text>
<text x="202.78" y="127.85" text-anchor="middle" font-size="6.75" fill="#5e5e5e" font-family="'Liberation Sans', sans-serif">40</text>
<text x="217.90" y="127.85" text-anchor="middle" font-size="6.75" fill="#5e5e5e" font-family="'Liberation Sans', sans-serif">60</text>
<text x="233.03" y="127.85" text-anchor="middle" font-size="6.75" fill="#5e5e5e" font-family="'Liberation Sans', sans-serif">80</text>
<text x="248.16" y="127.85" text-anchor="middle" font-size="6.75" fill="#5e5e5e" font-family="'Liberation Sans', sans-serif">100</text>
<text x="210.14" y="142.35" text-anchor="middle" font-size="6.9" textLength="44.2" lengthAdjust="spacingAndGlyphs" fill="#5e5e5e" font-family="'Liberation Sans', sans-serif">Sowing date B</text>
<text x="263.28" y="127.85" text-anchor="middle" font-size="6.75" fill="#5e5e5e" font-family="'Liberation Sans', sans-serif">0</text>
<text x="278.41" y="127.85" text-anchor="middle" font-size="6.75" fill="#5e5e5e" font-family="'Liberation Sans', sans-serif">20</text>
<text x="293.54" y="127.85" text-anchor="middle" font-size="6.75" fill="#5e5e5e" font-family="'Liberation Sans', sans-serif">40</text>
<text x="308.66" y="127.85" text-anchor="middle" font-size="6.75" fill="#5e5e5e" font-family="'Liberation Sans', sans-serif">60</text>
<text x="323.79" y="127.85" text-anchor="middle" font-size="6.75" fill="#5e5e5e" font-family="'Liberation Sans', sans-serif">80</text>
<text x="338.92" y="127.85" text-anchor="middle" font-size="6.75" fill="#5e5e5e" font-family="'Liberation Sans', sans-serif">100</text>
<text x="300.90" y="142.35" text-anchor="middle" font-size="6.9" textLength="44.2" lengthAdjust="spacingAndGlyphs" fill="#5e5e5e" font-family="'Liberation Sans', sans-serif">Sowing date C</text>
<text x="354.04" y="127.85" text-anchor="middle" font-size="6.75" fill="#5e5e5e" font-family="'Liberation Sans', sans-serif">0</text>
<text x="369.17" y="127.85" text-anchor="middle" font-size="6.75" fill="#5e5e5e" font-family="'Liberation Sans', sans-serif">20</text>
<text x="384.30" y="127.85" text-anchor="middle" font-size="6.75" fill="#5e5e5e" font-family="'Liberation Sans', sans-serif">40</text>
<text x="399.42" y="127.85" text-anchor="middle" font-size="6.75" fill="#5e5e5e" font-family="'Liberation Sans', sans-serif">60</text>
<text x="414.55" y="127.85" text-anchor="middle" font-size="6.75" fill="#5e5e5e" font-family="'Liberation Sans', sans-serif">80</text>
<text x="429.68" y="127.85" text-anchor="middle" font-size="6.75" fill="#5e5e5e" font-family="'Liberation Sans', sans-serif">100</text>
<text x="391.66" y="142.35" text-anchor="middle" font-size="6.9" textLength="44.2" lengthAdjust="spacingAndGlyphs" fill="#5e5e5e" font-family="'Liberation Sans', sans-serif">Sowing date D</text>
<text x="444.80" y="127.85" text-anchor="middle" font-size="6.75" fill="#5e5e5e" font-family="'Liberation Sans', sans-serif">0</text>
<text x="459.93" y="127.85" text-anchor="middle" font-size="6.75" fill="#5e5e5e" font-family="'Liberation Sans', sans-serif">20</text>
<text x="475.06" y="127.85" text-anchor="middle" font-size="6.75" fill="#5e5e5e" font-family="'Liberation Sans', sans-serif">40</text>
<text x="490.18" y="127.85" text-anchor="middle" font-size="6.75" fill="#5e5e5e" font-family="'Liberation Sans', sans-serif">60</text>
<text x="505.31" y="127.85" text-anchor="middle" font-size="6.75" fill="#5e5e5e" font-family="'Liberation Sans', sans-serif">80</text>
<text x="520.44" y="127.85" text-anchor="middle" font-size="6.75" fill="#5e5e5e" font-family="'Liberation Sans', sans-serif">100</text>
<text x="482.42" y="142.35" text-anchor="middle" font-size="6.9" textLength="44.2" lengthAdjust="spacingAndGlyphs" fill="#5e5e5e" font-family="'Liberation Sans', sans-serif">Sowing date E</text>
<text x="301.30" y="154.20" text-anchor="middle" font-size="8" font-weight="bold" fill="#565656" textLength="173" lengthAdjust="spacingAndGlyphs" font-family="'Liberation Sans', sans-serif">Irrigation treatments with different sowing dates</text>
<text transform="translate(40.30 62.75) rotate(-90)" text-anchor="middle" font-size="8" font-weight="bold" fill="#626262" textLength="88.4" lengthAdjust="spacingAndGlyphs" font-family="'Liberation Sans', sans-serif">Number of grains per ear</text>
<rect x="2.3" y="171.0" width="543.70" height="165.50" fill="#fff" stroke="#d9d9d9" stroke-width="1"/>
<line x1="45.8" x2="536.3" y1="306.05" y2="306.05" stroke="#d9d9d9" stroke-width="0.8"/>
<text x="38.5" y="308.40" text-anchor="end" font-size="7" fill="#5e5e5e" font-family="'Liberation Sans', sans-serif">-100</text>
<line x1="45.8" x2="536.3" y1="288.05" y2="288.05" stroke="#d9d9d9" stroke-width="0.8"/>
<text x="38.5" y="290.40" text-anchor="end" font-size="7" fill="#5e5e5e" font-family="'Liberation Sans', sans-serif">0</text>
<line x1="45.8" x2="536.3" y1="270.05" y2="270.05" stroke="#d9d9d9" stroke-width="0.8"/>
<text x="38.5" y="272.40" text-anchor="end" font-size="7" fill="#5e5e5e" font-family="'Liberation Sans', sans-serif">100</text>
<line x1="45.8" x2="536.3" y1="252.05" y2="252.05" stroke="#d9d9d9" stroke-width="0.8"/>
<text x="38.5" y="254.40" text-anchor="end" font-size="7" fill="#5e5e5e" font-family="'Liberation Sans', sans-serif">200</text>
<line x1="45.8" x2="536.3" y1="234.05" y2="234.05" stroke="#d9d9d9" stroke-width="0.8"/>
<text x="38.5" y="236.40" text-anchor="end" font-size="7" fill="#5e5e5e" font-family="'Liberation Sans', sans-serif">300</text>
<line x1="45.8" x2="536.3" y1="216.05" y2="216.05" stroke="#d9d9d9" stroke-width="0.8"/>
<text x="38.5" y="218.40" text-anchor="end" font-size="7" fill="#5e5e5e" font-family="'Liberation Sans', sans-serif">400</text>
<line x1="45.8" x2="536.3" y1="198.05" y2="198.05" stroke="#d9d9d9" stroke-width="0.8"/>
<text x="38.5" y="200.40" text-anchor="end" font-size="7" fill="#5e5e5e" font-family="'Liberation Sans', sans-serif">500</text>
<line x1="45.8" x2="536.3" y1="180.05" y2="180.05" stroke="#d9d9d9" stroke-width="0.8"/>
<text x="38.5" y="182.40" text-anchor="end" font-size="7" fill="#5e5e5e" font-family="'Liberation Sans', sans-serif">600</text>
<rect x="94.6" y="183.0" width="4.1" height="4.1" fill="#1b72d0"/>
<text x="100.40" y="187.40" font-size="7.2" fill="#5e5e5e" textLength="29.6" lengthAdjust="spacingAndGlyphs" font-family="'Liberation Sans', sans-serif">KWS3376</text>
<rect x="167.9" y="183.0" width="4.1" height="4.1" fill="#ff8a2a"/>
<text x="173.70" y="187.40" font-size="7.2" fill="#5e5e5e" textLength="26.4" lengthAdjust="spacingAndGlyphs" font-family="'Liberation Sans', sans-serif">Xinyu 65</text>
<rect x="238.5" y="183.0" width="4.1" height="4.1" fill="#adadb2"/>
<text x="244.30" y="187.40" font-size="7.2" fill="#5e5e5e" textLength="29.9" lengthAdjust="spacingAndGlyphs" font-family="'Liberation Sans', sans-serif">KWS9384</text>
<rect x="312" y="183.0" width="4.1" height="4.1" fill="#ffc61a"/>
<text x="317.80" y="187.40" font-size="7.2" fill="#5e5e5e" textLength="42.4" lengthAdjust="spacingAndGlyphs" font-family="'Liberation Sans', sans-serif">Huamei No. 1</text>
<rect x="397.8" y="183.0" width="4.1" height="4.1" fill="#2a9fe8"/>
<text x="403.60" y="187.40" font-size="7.2" fill="#5e5e5e" textLength="30.4" lengthAdjust="spacingAndGlyphs" font-family="'Liberation Sans', sans-serif">Xinyu 102</text>
<rect x="472" y="183.0" width="4.1" height="4.1" fill="#44b040"/>
<text x="477.80" y="187.40" font-size="7.2" fill="#5e5e5e" textLength="31.0" lengthAdjust="spacingAndGlyphs" font-family="'Liberation Sans', sans-serif">He Yu 187</text>
<rect x="47.48" y="278.33" width="2.17" height="9.72" fill="#1b72d0"/><rect x="49.64" y="287.51" width="2.17" height="0.54" fill="#ff8a2a"/><rect x="51.81" y="284.45" width="2.17" height="3.60" fill="#adadb2"/><rect x="53.97" y="280.67" width="2.17" height="7.38" fill="#ffc61a"/><rect x="56.14" y="277.07" width="2.17" height="10.98" fill="#2a9fe8"/><rect x="58.31" y="274.73" width="2.17" height="13.32" fill="#44b040"/><rect x="63.83" y="235.85" width="2.17" height="52.20" fill="#1b72d0"/><rect x="65.99" y="248.99" width="2.17" height="39.06" fill="#ff8a2a"/><rect x="68.16" y="265.37" width="2.17" height="22.68" fill="#adadb2"/><rect x="70.32" y="239.81" width="2.17" height="48.24" fill="#ffc61a"/><rect x="72.49" y="241.97" width="2.17" height="46.08" fill="#2a9fe8"/><rect x="74.66" y="245.39" width="2.17" height="42.66" fill="#44b040"/><rect x="80.18" y="213.17" width="2.17" height="74.88" fill="#1b72d0"/><rect x="82.34" y="223.25" width="2.17" height="64.80" fill="#ff8a2a"/><rect x="84.51" y="230.45" width="2.17" height="57.60" fill="#adadb2"/><rect x="86.68" y="208.49" width="2.17" height="79.56" fill="#ffc61a"/><rect x="88.84" y="225.95" width="2.17" height="62.10" fill="#2a9fe8"/><rect x="91.01" y="221.99" width="2.17" height="66.06" fill="#44b040"/><rect x="96.53" y="217.85" width="2.17" height="70.20" fill="#1b72d0"/><rect x="98.69" y="212.45" width="2.17" height="75.60" fill="#ff8a2a"/><rect x="100.86" y="224.15" width="2.17" height="63.90" fill="#adadb2"/><rect x="103.03" y="203.09" width="2.17" height="84.96" fill="#ffc61a"/><rect x="105.19" y="220.91" width="2.17" height="67.14" fill="#2a9fe8"/><rect x="107.36" y="213.35" width="2.17" height="74.70" fill="#44b040"/><rect x="112.88" y="203.63" width="2.17" height="84.42" fill="#1b72d0"/><rect x="115.04" y="210.65" width="2.17" height="77.40" fill="#ff8a2a"/><rect x="117.21" y="211.55" width="2.17" height="76.50" fill="#adadb2"/><rect x="119.38" y="195.17" width="2.17" height="92.88" fill="#ffc61a"/><rect x="121.54" y="211.55" width="2.17" height="76.50" fill="#2a9fe8"/><rect x="123.71" y="211.91" width="2.17" height="76.14" fill="#44b040"/><rect x="129.23" y="211.19" width="2.17" height="76.86" fill="#1b72d0"/><rect x="131.39" y="216.95" width="2.17" height="71.10" fill="#ff8a2a"/><rect x="133.56" y="210.65" width="2.17" height="77.40" fill="#adadb2"/><rect x="135.72" y="192.29" width="2.17" height="95.76" fill="#ffc61a"/><rect x="137.89" y="205.43" width="2.17" height="82.62" fill="#2a9fe8"/><rect x="140.06" y="214.79" width="2.17" height="73.26" fill="#44b040"/><rect x="145.58" y="245.75" width="2.17" height="42.30" fill="#1b72d0"/><rect x="147.74" y="287.51" width="2.17" height="0.54" fill="#ff8a2a"/><rect x="149.91" y="277.97" width="2.17" height="10.08" fill="#adadb2"/><rect x="152.07" y="278.87" width="2.17" height="9.18" fill="#ffc61a"/><rect x="154.24" y="277.07" width="2.17" height="10.98" fill="#2a9fe8"/><rect x="156.41" y="282.83" width="2.17" height="5.22" fill="#44b040"/><rect x="161.93" y="260.51" width="2.17" height="27.54" fill="#1b72d0"/><rect x="164.09" y="258.17" width="2.17" height="29.88" fill="#ff8a2a"/><rect x="166.26" y="259.25" width="2.17" height="28.80" fill="#adadb2"/><rect x="168.42" y="239.27" width="2.17" height="48.78" fill="#ffc61a"/><rect x="170.59" y="252.95" width="2.17" height="35.10" fill="#2a9fe8"/><rect x="172.76" y="254.39" width="2.17" height="33.66" fill="#44b040"/><rect x="178.28" y="231.71" width="2.17" height="56.34" fill="#1b72d0"/><rect x="180.44" y="240.53" width="2.17" height="47.52" fill="#ff8a2a"/><rect x="182.61" y="234.77" width="2.17" height="53.28" fill="#adadb2"/><rect x="184.77" y="229.91" width="2.17" height="58.14" fill="#ffc61a"/><rect x="186.94" y="228.65" width="2.17" height="59.40" fill="#2a9fe8"/><rect x="189.11" y="232.25" width="2.17" height="55.80" fill="#44b040"/><rect x="194.63" y="232.25" width="2.17" height="55.80" fill="#1b72d0"/><rect x="196.79" y="228.65" width="2.17" height="59.40" fill="#ff8a2a"/><rect x="198.96" y="225.77" width="2.17" height="62.28" fill="#adadb2"/><rect x="201.12" y="211.55" width="2.17" height="76.50" fill="#ffc61a"/><rect x="203.29" y="226.31" width="2.17" height="61.74" fill="#2a9fe8"/><rect x="205.46" y="232.97" width="2.17" height="55.08" fill="#44b040"/><rect x="210.98" y="220.91" width="2.17" height="67.14" fill="#1b72d0"/><rect x="213.14" y="216.59" width="2.17" height="71.46" fill="#ff8a2a"/><rect x="215.31" y="218.75" width="2.17" height="69.30" fill="#adadb2"/><rect x="217.47" y="210.11" width="2.17" height="77.94" fill="#ffc61a"/><rect x="219.64" y="221.45" width="2.17" height="66.60" fill="#2a9fe8"/><rect x="221.81" y="216.59" width="2.17" height="71.46" fill="#44b040"/><rect x="227.33" y="227.39" width="2.17" height="60.66" fill="#1b72d0"/><rect x="229.49" y="220.55" width="2.17" height="67.50" fill="#ff8a2a"/><rect x="231.66" y="225.05" width="2.17" height="63.00" fill="#adadb2"/><rect x="233.82" y="211.19" width="2.17" height="76.86" fill="#ffc61a"/><rect x="235.99" y="210.65" width="2.17" height="77.40" fill="#2a9fe8"/><rect x="238.16" y="222.35" width="2.17" height="65.70" fill="#44b040"/><rect x="243.68" y="252.59" width="2.17" height="35.46" fill="#1b72d0"/><rect x="245.84" y="262.13" width="2.17" height="25.92" fill="#ff8a2a"/><rect x="248.01" y="254.75" width="2.17" height="33.30" fill="#adadb2"/><rect x="250.17" y="246.11" width="2.17" height="41.94" fill="#ffc61a"/><rect x="252.34" y="254.75" width="2.17" height="33.30" fill="#2a9fe8"/><rect x="254.51" y="247.55" width="2.17" height="40.50" fill="#44b040"/><rect x="260.03" y="225.95" width="2.17" height="62.10" fill="#1b72d0"/><rect x="262.19" y="236.21" width="2.17" height="51.84" fill="#ff8a2a"/><rect x="264.36" y="229.91" width="2.17" height="58.14" fill="#adadb2"/><rect x="266.53" y="221.45" width="2.17" height="66.60" fill="#ffc61a"/><rect x="268.69" y="238.73" width="2.17" height="49.32" fill="#2a9fe8"/><rect x="270.86" y="235.13" width="2.17" height="52.92" fill="#44b040"/><rect x="276.38" y="213.71" width="2.17" height="74.34" fill="#1b72d0"/><rect x="278.54" y="219.11" width="2.17" height="68.94" fill="#ff8a2a"/><rect x="280.71" y="215.51" width="2.17" height="72.54" fill="#adadb2"/><rect x="282.88" y="202.37" width="2.17" height="85.68" fill="#ffc61a"/><rect x="285.04" y="214.79" width="2.17" height="73.26" fill="#2a9fe8"/><rect x="287.21" y="221.99" width="2.17" height="66.06" fill="#44b040"/><rect x="292.73" y="204.17" width="2.17" height="83.88" fill="#1b72d0"/><rect x="294.89" y="220.19" width="2.17" height="67.86" fill="#ff8a2a"/><rect x="297.06" y="214.25" width="2.17" height="73.80" fill="#adadb2"/><rect x="299.23" y="199.49" width="2.17" height="88.56" fill="#ffc61a"/><rect x="301.39" y="207.77" width="2.17" height="80.28" fill="#2a9fe8"/><rect x="303.56" y="205.61" width="2.17" height="82.44" fill="#44b040"/><rect x="309.08" y="202.37" width="2.17" height="85.68" fill="#1b72d0"/><rect x="311.24" y="206.69" width="2.17" height="81.36" fill="#ff8a2a"/><rect x="313.41" y="193.73" width="2.17" height="94.32" fill="#adadb2"/><rect x="315.57" y="195.17" width="2.17" height="92.88" fill="#ffc61a"/><rect x="317.74" y="200.03" width="2.17" height="88.02" fill="#2a9fe8"/><rect x="319.91" y="203.09" width="2.17" height="84.96" fill="#44b040"/><rect x="325.43" y="204.53" width="2.17" height="83.52" fill="#1b72d0"/><rect x="327.59" y="209.57" width="2.17" height="78.48" fill="#ff8a2a"/><rect x="329.76" y="200.93" width="2.17" height="87.12" fill="#adadb2"/><rect x="331.93" y="223.79" width="2.17" height="64.26" fill="#ffc61a"/><rect x="334.09" y="237.47" width="2.17" height="50.58" fill="#2a9fe8"/><rect x="336.26" y="200.93" width="2.17" height="87.12" fill="#44b040"/><rect x="341.78" y="270.77" width="2.17" height="17.28" fill="#1b72d0"/><rect x="343.94" y="277.61" width="2.17" height="10.44" fill="#ff8a2a"/><rect x="346.11" y="260.87" width="2.17" height="27.18" fill="#adadb2"/><rect x="348.27" y="257.99" width="2.17" height="30.06" fill="#ffc61a"/><rect x="350.44" y="268.97" width="2.17" height="19.08" fill="#2a9fe8"/><rect x="352.61" y="265.73" width="2.17" height="22.32" fill="#44b040"/><rect x="358.13" y="258.35" width="2.17" height="29.70" fill="#1b72d0"/><rect x="360.29" y="252.59" width="2.17" height="35.46" fill="#ff8a2a"/><rect x="362.46" y="246.65" width="2.17" height="41.40" fill="#adadb2"/><rect x="364.62" y="243.95" width="2.17" height="44.10" fill="#ffc61a"/><rect x="366.79" y="247.55" width="2.17" height="40.50" fill="#2a9fe8"/><rect x="368.96" y="245.39" width="2.17" height="42.66" fill="#44b040"/><rect x="374.48" y="232.97" width="2.17" height="55.08" fill="#1b72d0"/><rect x="376.64" y="229.91" width="2.17" height="58.14" fill="#ff8a2a"/><rect x="378.81" y="234.05" width="2.17" height="54.00" fill="#adadb2"/><rect x="380.97" y="227.39" width="2.17" height="60.66" fill="#ffc61a"/><rect x="383.14" y="234.77" width="2.17" height="53.28" fill="#2a9fe8"/><rect x="385.31" y="225.95" width="2.17" height="62.10" fill="#44b040"/><rect x="390.83" y="220.91" width="2.17" height="67.14" fill="#1b72d0"/><rect x="392.99" y="221.99" width="2.17" height="66.06" fill="#ff8a2a"/><rect x="395.16" y="229.55" width="2.17" height="58.50" fill="#adadb2"/><rect x="397.32" y="210.11" width="2.17" height="77.94" fill="#ffc61a"/><rect x="399.49" y="223.25" width="2.17" height="64.80" fill="#2a9fe8"/><rect x="401.66" y="226.31" width="2.17" height="61.74" fill="#44b040"/><rect x="407.18" y="217.85" width="2.17" height="70.20" fill="#1b72d0"/><rect x="409.34" y="219.11" width="2.17" height="68.94" fill="#ff8a2a"/><rect x="411.51" y="223.25" width="2.17" height="64.80" fill="#adadb2"/><rect x="413.67" y="219.65" width="2.17" height="68.40" fill="#ffc61a"/><rect x="415.84" y="215.51" width="2.17" height="72.54" fill="#2a9fe8"/><rect x="418.01" y="224.51" width="2.17" height="63.54" fill="#44b040"/><rect x="423.53" y="213.71" width="2.17" height="74.34" fill="#1b72d0"/><rect x="425.69" y="217.31" width="2.17" height="70.74" fill="#ff8a2a"/><rect x="427.86" y="221.45" width="2.17" height="66.60" fill="#adadb2"/><rect x="430.02" y="211.55" width="2.17" height="76.50" fill="#ffc61a"/><rect x="432.19" y="223.25" width="2.17" height="64.80" fill="#2a9fe8"/><rect x="434.36" y="223.79" width="2.17" height="64.26" fill="#44b040"/><rect x="439.88" y="257.81" width="2.17" height="30.24" fill="#1b72d0"/><rect x="442.04" y="273.83" width="2.17" height="14.22" fill="#ff8a2a"/><rect x="444.21" y="258.89" width="2.17" height="29.16" fill="#adadb2"/><rect x="446.38" y="249.89" width="2.17" height="38.16" fill="#ffc61a"/><rect x="448.54" y="250.61" width="2.17" height="37.44" fill="#2a9fe8"/><rect x="450.71" y="268.97" width="2.17" height="19.08" fill="#44b040"/><rect x="456.23" y="238.91" width="2.17" height="49.14" fill="#1b72d0"/><rect x="458.39" y="250.61" width="2.17" height="37.44" fill="#ff8a2a"/><rect x="460.56" y="245.57" width="2.17" height="42.48" fill="#adadb2"/><rect x="462.73" y="233.15" width="2.17" height="54.90" fill="#ffc61a"/><rect x="464.89" y="248.09" width="2.17" height="39.96" fill="#2a9fe8"/><rect x="467.06" y="249.71" width="2.17" height="38.34" fill="#44b040"/><rect x="472.58" y="225.59" width="2.17" height="62.46" fill="#1b72d0"/><rect x="474.74" y="225.95" width="2.17" height="62.10" fill="#ff8a2a"/><rect x="476.91" y="224.15" width="2.17" height="63.90" fill="#adadb2"/><rect x="479.07" y="215.15" width="2.17" height="72.90" fill="#ffc61a"/><rect x="481.24" y="228.65" width="2.17" height="59.40" fill="#2a9fe8"/><rect x="483.41" y="224.51" width="2.17" height="63.54" fill="#44b040"/><rect x="488.93" y="220.19" width="2.17" height="67.86" fill="#1b72d0"/><rect x="491.09" y="229.91" width="2.17" height="58.14" fill="#ff8a2a"/><rect x="493.26" y="226.85" width="2.17" height="61.20" fill="#adadb2"/><rect x="495.43" y="216.59" width="2.17" height="71.46" fill="#ffc61a"/><rect x="497.59" y="223.79" width="2.17" height="64.26" fill="#2a9fe8"/><rect x="499.76" y="220.55" width="2.17" height="67.50" fill="#44b040"/><rect x="505.28" y="219.11" width="2.17" height="68.94" fill="#1b72d0"/><rect x="507.44" y="220.19" width="2.17" height="67.86" fill="#ff8a2a"/><rect x="509.61" y="224.15" width="2.17" height="63.90" fill="#adadb2"/><rect x="511.77" y="216.05" width="2.17" height="72.00" fill="#ffc61a"/><rect x="513.94" y="220.19" width="2.17" height="67.86" fill="#2a9fe8"/><rect x="516.11" y="220.55" width="2.17" height="67.50" fill="#44b040"/><rect x="521.63" y="248.99" width="2.17" height="39.06" fill="#1b72d0"/><rect x="523.79" y="241.43" width="2.17" height="46.62" fill="#ff8a2a"/><rect x="525.96" y="220.91" width="2.17" height="67.14" fill="#adadb2"/><rect x="528.12" y="208.49" width="2.17" height="79.56" fill="#ffc61a"/><rect x="530.29" y="222.35" width="2.17" height="65.70" fill="#2a9fe8"/><rect x="532.46" y="219.65" width="2.17" height="68.40" fill="#44b040"/>
<path d="M48.56 274.61V282.05M50.73 282.29V292.19M52.89 225.95V288.41M55.06 277.04V284.30M57.22 273.54V280.60M59.39 271.01V278.45M64.91 231.71V239.99M67.08 244.64V253.34M69.24 261.64V269.10M71.41 235.77V243.85M73.57 238.04V245.90M75.74 241.25V249.53M81.26 209.31V217.03M83.43 219.20V227.30M85.59 226.98V233.92M87.76 204.73V212.25M89.92 222.28V229.62M92.09 218.13V225.85M97.61 213.57V222.13M99.78 207.96V216.94M101.94 220.30V228.00M104.11 198.92V207.26M106.27 216.84V224.98M108.44 209.07V217.63M113.96 199.63V207.63M116.13 206.45V214.85M118.29 207.95V215.15M120.46 191.27V199.07M122.62 207.75V215.35M124.79 207.91V215.91M130.31 207.47V214.91M132.48 213.04V220.86M134.64 207.30V214.00M136.81 188.66V195.92M138.97 201.90V208.96M141.14 211.07V218.51M146.66 241.75V249.75M148.83 282.65V292.19M150.99 274.37V281.57M153.16 274.97V282.77M155.32 273.27V280.87M157.49 278.83V286.83M163.01 256.79V264.23M165.18 254.26V262.08M167.34 255.90V262.60M169.51 235.64V242.90M171.67 249.42V256.48M173.84 250.67V258.11M179.36 227.57V235.85M181.53 236.18V244.88M183.69 231.04V238.50M185.86 225.87V233.95M188.02 224.72V232.58M190.19 228.11V236.39M195.71 228.39V236.11M197.88 224.60V232.70M200.04 222.30V229.24M202.21 207.79V215.31M204.37 222.64V229.98M206.54 229.11V236.83M212.06 216.63V225.19M214.23 212.10V221.08M216.39 214.90V222.60M218.56 205.94V214.28M220.72 217.38V225.52M222.89 212.31V220.87M228.41 223.39V231.39M230.58 216.35V224.75M232.74 221.45V228.65M234.91 207.29V215.09M237.07 206.85V214.45M239.24 218.35V226.35M244.76 248.31V256.87M246.93 257.64V266.62M249.09 250.90V258.60M251.26 241.94V250.28M253.42 250.68V258.82M255.59 243.27V251.83M261.11 221.95V229.95M263.28 232.01V240.41M265.44 226.31V233.51M267.61 217.55V225.35M269.77 234.93V242.53M271.94 231.13V239.13M277.46 209.99V217.43M279.63 215.20V223.02M281.79 212.16V218.86M283.96 198.74V206.00M286.12 211.26V218.32M288.29 218.27V225.71M293.81 200.03V208.31M295.98 215.84V224.54M298.14 210.52V217.98M300.31 195.45V203.53M302.47 203.84V211.70M304.64 201.47V209.75M310.16 198.51V206.23M312.33 202.64V210.74M314.49 190.26V197.20M316.66 191.41V198.93M318.82 196.36V203.70M320.99 199.23V206.95M326.51 200.25V208.81M328.68 205.08V214.06M330.84 197.08V204.78M333.01 219.62V227.96M335.17 233.40V241.54M337.34 196.65V205.21M342.86 266.91V274.63M345.03 273.56V281.66M347.19 257.40V264.34M349.36 254.23V261.75M351.52 265.30V272.64M353.69 261.87V269.59M359.21 254.07V262.63M361.38 248.10V257.08M363.54 242.80V250.50M365.71 239.78V248.12M367.87 243.48V251.62M370.04 241.11V249.67M375.56 228.97V236.97M377.73 225.71V234.11M379.89 230.45V237.65M382.06 223.49V231.29M384.22 230.97V238.57M386.39 221.95V229.95M391.91 217.19V224.63M394.08 218.08V225.90M396.24 226.20V232.90M398.41 206.48V213.74M400.57 219.72V226.78M402.74 222.59V230.03M408.26 213.71V221.99M410.43 214.76V223.46M412.59 219.52V226.98M414.76 215.61V223.69M416.92 211.58V219.44M419.09 220.37V228.65M424.61 209.85V217.57M426.78 213.26V221.36M428.94 217.98V224.92M431.11 207.79V215.31M433.27 219.58V226.92M435.44 219.93V227.65M440.96 253.67V261.95M443.13 269.48V278.18M445.29 255.16V262.62M447.46 245.85V253.93M449.62 246.68V254.54M451.79 264.83V273.11M457.31 235.05V242.77M459.48 246.56V254.66M461.64 242.10V249.04M463.81 229.39V236.91M465.97 244.42V251.76M468.14 245.85V253.57M473.66 221.31V229.87M475.83 221.46V230.44M477.99 220.30V228.00M480.16 210.98V219.32M482.32 224.58V232.72M484.49 220.23V228.79M490.01 216.19V224.19M492.18 225.71V234.11M494.34 223.25V230.45M496.51 212.69V220.49M498.67 219.99V227.59M500.84 216.55V224.55M506.36 215.39V222.83M508.53 216.28V224.10M510.69 220.80V227.50M512.86 212.42V219.68M515.02 216.66V223.72M517.19 216.83V224.27M522.71 244.85V253.13M524.88 237.08V245.78M527.04 217.18V224.64M529.21 204.45V212.53M531.37 218.42V226.28M533.54 215.51V223.79" stroke="#74747c" stroke-width="0.9" fill="none"/>
<path d="M46.81 274.61h3.5M46.81 282.05h3.5M48.98 282.29h3.5M48.98 292.19h3.5M51.14 225.95h3.5M51.14 288.41h3.5M53.31 277.04h3.5M53.31 284.30h3.5M55.47 273.54h3.5M55.47 280.60h3.5M57.64 271.01h3.5M57.64 278.45h3.5M63.16 231.71h3.5M63.16 239.99h3.5M65.33 244.64h3.5M65.33 253.34h3.5M67.49 261.64h3.5M67.49 269.10h3.5M69.66 235.77h3.5M69.66 243.85h3.5M71.82 238.04h3.5M71.82 245.90h3.5M73.99 241.25h3.5M73.99 249.53h3.5M79.51 209.31h3.5M79.51 217.03h3.5M81.68 219.20h3.5M81.68 227.30h3.5M83.84 226.98h3.5M83.84 233.92h3.5M86.01 204.73h3.5M86.01 212.25h3.5M88.17 222.28h3.5M88.17 229.62h3.5M90.34 218.13h3.5M90.34 225.85h3.5M95.86 213.57h3.5M95.86 222.13h3.5M98.03 207.96h3.5M98.03 216.94h3.5M100.19 220.30h3.5M100.19 228.00h3.5M102.36 198.92h3.5M102.36 207.26h3.5M104.52 216.84h3.5M104.52 224.98h3.5M106.69 209.07h3.5M106.69 217.63h3.5M112.21 199.63h3.5M112.21 207.63h3.5M114.38 206.45h3.5M114.38 214.85h3.5M116.54 207.95h3.5M116.54 215.15h3.5M118.71 191.27h3.5M118.71 199.07h3.5M120.87 207.75h3.5M120.87 215.35h3.5M123.04 207.91h3.5M123.04 215.91h3.5M128.56 207.47h3.5M128.56 214.91h3.5M130.73 213.04h3.5M130.73 220.86h3.5M132.89 207.30h3.5M132.89 214.00h3.5M135.06 188.66h3.5M135.06 195.92h3.5M137.22 201.90h3.5M137.22 208.96h3.5M139.39 211.07h3.5M139.39 218.51h3.5M144.91 241.75h3.5M144.91 249.75h3.5M147.08 282.65h3.5M147.08 292.19h3.5M149.24 274.37h3.5M149.24 281.57h3.5M151.41 274.97h3.5M151.41 282.77h3.5M153.57 273.27h3.5M153.57 280.87h3.5M155.74 278.83h3.5M155.74 286.83h3.5M161.26 256.79h3.5M161.26 264.23h3.5M163.43 254.26h3.5M163.43 262.08h3.5M165.59 255.90h3.5M165.59 262.60h3.5M167.76 235.64h3.5M167.76 242.90h3.5M169.92 249.42h3.5M169.92 256.48h3.5M172.09 250.67h3.5M172.09 258.11h3.5M177.61 227.57h3.5M177.61 235.85h3.5M179.78 236.18h3.5M179.78 244.88h3.5M181.94 231.04h3.5M181.94 238.50h3.5M184.11 225.87h3.5M184.11 233.95h3.5M186.27 224.72h3.5M186.27 232.58h3.5M188.44 228.11h3.5M188.44 236.39h3.5M193.96 228.39h3.5M193.96 236.11h3.5M196.13 224.60h3.5M196.13 232.70h3.5M198.29 222.30h3.5M198.29 229.24h3.5M200.46 207.79h3.5M200.46 215.31h3.5M202.62 222.64h3.5M202.62 229.98h3.5M204.79 229.11h3.5M204.79 236.83h3.5M210.31 216.63h3.5M210.31 225.19h3.5M212.48 212.10h3.5M212.48 221.08h3.5M214.64 214.90h3.5M214.64 222.60h3.5M216.81 205.94h3.5M216.81 214.28h3.5M218.97 217.38h3.5M218.97 225.52h3.5M221.14 212.31h3.5M221.14 220.87h3.5M226.66 223.39h3.5M226.66 231.39h3.5M228.83 216.35h3.5M228.83 224.75h3.5M230.99 221.45h3.5M230.99 228.65h3.5M233.16 207.29h3.5M233.16 215.09h3.5M235.32 206.85h3.5M235.32 214.45h3.5M237.49 218.35h3.5M237.49 226.35h3.5M243.01 248.31h3.5M243.01 256.87h3.5M245.18 257.64h3.5M245.18 266.62h3.5M247.34 250.90h3.5M247.34 258.60h3.5M249.51 241.94h3.5M249.51 250.28h3.5M251.67 250.68h3.5M251.67 258.82h3.5M253.84 243.27h3.5M253.84 251.83h3.5M259.36 221.95h3.5M259.36 229.95h3.5M261.53 232.01h3.5M261.53 240.41h3.5M263.69 226.31h3.5M263.69 233.51h3.5M265.86 217.55h3.5M265.86 225.35h3.5M268.02 234.93h3.5M268.02 242.53h3.5M270.19 231.13h3.5M270.19 239.13h3.5M275.71 209.99h3.5M275.71 217.43h3.5M277.88 215.20h3.5M277.88 223.02h3.5M280.04 212.16h3.5M280.04 218.86h3.5M282.21 198.74h3.5M282.21 206.00h3.5M284.37 211.26h3.5M284.37 218.32h3.5M286.54 218.27h3.5M286.54 225.71h3.5M292.06 200.03h3.5M292.06 208.31h3.5M294.23 215.84h3.5M294.23 224.54h3.5M296.39 210.52h3.5M296.39 217.98h3.5M298.56 195.45h3.5M298.56 203.53h3.5M300.72 203.84h3.5M300.72 211.70h3.5M302.89 201.47h3.5M302.89 209.75h3.5M308.41 198.51h3.5M308.41 206.23h3.5M310.58 202.64h3.5M310.58 210.74h3.5M312.74 190.26h3.5M312.74 197.20h3.5M314.91 191.41h3.5M314.91 198.93h3.5M317.07 196.36h3.5M317.07 203.70h3.5M319.24 199.23h3.5M319.24 206.95h3.5M324.76 200.25h3.5M324.76 208.81h3.5M326.93 205.08h3.5M326.93 214.06h3.5M329.09 197.08h3.5M329.09 204.78h3.5M331.26 219.62h3.5M331.26 227.96h3.5M333.42 233.40h3.5M333.42 241.54h3.5M335.59 196.65h3.5M335.59 205.21h3.5M341.11 266.91h3.5M341.11 274.63h3.5M343.28 273.56h3.5M343.28 281.66h3.5M345.44 257.40h3.5M345.44 264.34h3.5M347.61 254.23h3.5M347.61 261.75h3.5M349.77 265.30h3.5M349.77 272.64h3.5M351.94 261.87h3.5M351.94 269.59h3.5M357.46 254.07h3.5M357.46 262.63h3.5M359.63 248.10h3.5M359.63 257.08h3.5M361.79 242.80h3.5M361.79 250.50h3.5M363.96 239.78h3.5M363.96 248.12h3.5M366.12 243.48h3.5M366.12 251.62h3.5M368.29 241.11h3.5M368.29 249.67h3.5M373.81 228.97h3.5M373.81 236.97h3.5M375.98 225.71h3.5M375.98 234.11h3.5M378.14 230.45h3.5M378.14 237.65h3.5M380.31 223.49h3.5M380.31 231.29h3.5M382.47 230.97h3.5M382.47 238.57h3.5M384.64 221.95h3.5M384.64 229.95h3.5M390.16 217.19h3.5M390.16 224.63h3.5M392.33 218.08h3.5M392.33 225.90h3.5M394.49 226.20h3.5M394.49 232.90h3.5M396.66 206.48h3.5M396.66 213.74h3.5M398.82 219.72h3.5M398.82 226.78h3.5M400.99 222.59h3.5M400.99 230.03h3.5M406.51 213.71h3.5M406.51 221.99h3.5M408.68 214.76h3.5M408.68 223.46h3.5M410.84 219.52h3.5M410.84 226.98h3.5M413.01 215.61h3.5M413.01 223.69h3.5M415.17 211.58h3.5M415.17 219.44h3.5M417.34 220.37h3.5M417.34 228.65h3.5M422.86 209.85h3.5M422.86 217.57h3.5M425.03 213.26h3.5M425.03 221.36h3.5M427.19 217.98h3.5M427.19 224.92h3.5M429.36 207.79h3.5M429.36 215.31h3.5M431.52 219.58h3.5M431.52 226.92h3.5M433.69 219.93h3.5M433.69 227.65h3.5M439.21 253.67h3.5M439.21 261.95h3.5M441.38 269.48h3.5M441.38 278.18h3.5M443.54 255.16h3.5M443.54 262.62h3.5M445.71 245.85h3.5M445.71 253.93h3.5M447.87 246.68h3.5M447.87 254.54h3.5M450.04 264.83h3.5M450.04 273.11h3.5M455.56 235.05h3.5M455.56 242.77h3.5M457.73 246.56h3.5M457.73 254.66h3.5M459.89 242.10h3.5M459.89 249.04h3.5M462.06 229.39h3.5M462.06 236.91h3.5M464.22 244.42h3.5M464.22 251.76h3.5M466.39 245.85h3.5M466.39 253.57h3.5M471.91 221.31h3.5M471.91 229.87h3.5M474.08 221.46h3.5M474.08 230.44h3.5M476.24 220.30h3.5M476.24 228.00h3.5M478.41 210.98h3.5M478.41 219.32h3.5M480.57 224.58h3.5M480.57 232.72h3.5M482.74 220.23h3.5M482.74 228.79h3.5M488.26 216.19h3.5M488.26 224.19h3.5M490.43 225.71h3.5M490.43 234.11h3.5M492.59 223.25h3.5M492.59 230.45h3.5M494.76 212.69h3.5M494.76 220.49h3.5M496.92 219.99h3.5M496.92 227.59h3.5M499.09 216.55h3.5M499.09 224.55h3.5M504.61 215.39h3.5M504.61 222.83h3.5M506.78 216.28h3.5M506.78 224.10h3.5M508.94 220.80h3.5M508.94 227.50h3.5M511.11 212.42h3.5M511.11 219.68h3.5M513.27 216.66h3.5M513.27 223.72h3.5M515.44 216.83h3.5M515.44 224.27h3.5M520.96 244.85h3.5M520.96 253.13h3.5M523.13 237.08h3.5M523.13 245.78h3.5M525.29 217.18h3.5M525.29 224.64h3.5M527.46 204.45h3.5M527.46 212.53h3.5M529.62 218.42h3.5M529.62 226.28h3.5M531.79 215.51h3.5M531.79 223.79h3.5" stroke="#5c5c62" stroke-width="1" fill="none"/>
<line x1="45.8" x2="536.3" y1="288.05" y2="288.05" stroke="#d9d9d9" stroke-width="0.8"/>
<line x1="45.80" x2="45.80" y1="288.05" y2="317" stroke="#d9d9d9" stroke-width="0.8"/>
<line x1="143.90" x2="143.90" y1="288.05" y2="317" stroke="#d9d9d9" stroke-width="0.8"/>
<line x1="242.00" x2="242.00" y1="288.05" y2="317" stroke="#d9d9d9" stroke-width="0.8"/>
<line x1="340.10" x2="340.10" y1="288.05" y2="317" stroke="#d9d9d9" stroke-width="0.8"/>
<line x1="438.20" x2="438.20" y1="288.05" y2="317" stroke="#d9d9d9" stroke-width="0.8"/>
<line x1="536.30" x2="536.30" y1="288.05" y2="317" stroke="#d9d9d9" stroke-width="0.8"/>
<text x="54.17" y="300.55" text-anchor="middle" font-size="6.75" fill="#5e5e5e" font-family="'Liberation Sans', sans-serif">0</text>
<text x="70.52" y="300.55" text-anchor="middle" font-size="6.75" fill="#5e5e5e" font-family="'Liberation Sans', sans-serif">20</text>
<text x="86.87" y="300.55" text-anchor="middle" font-size="6.75" fill="#5e5e5e" font-family="'Liberation Sans', sans-serif">40</text>
<text x="103.22" y="300.55" text-anchor="middle" font-size="6.75" fill="#5e5e5e" font-family="'Liberation Sans', sans-serif">60</text>
<text x="119.57" y="300.55" text-anchor="middle" font-size="6.75" fill="#5e5e5e" font-family="'Liberation Sans', sans-serif">80</text>
<text x="135.92" y="300.55" text-anchor="middle" font-size="6.75" fill="#5e5e5e" font-family="'Liberation Sans', sans-serif">100</text>
<text x="94.85" y="314.75" text-anchor="middle" font-size="6.9" textLength="44.2" lengthAdjust="spacingAndGlyphs" fill="#5e5e5e" font-family="'Liberation Sans', sans-serif">Sowing date A</text>
<text x="152.27" y="300.55" text-anchor="middle" font-size="6.75" fill="#5e5e5e" font-family="'Liberation Sans', sans-serif">0</text>
<text x="168.62" y="300.55" text-anchor="middle" font-size="6.75" fill="#5e5e5e" font-family="'Liberation Sans', sans-serif">20</text>
<text x="184.97" y="300.55" text-anchor="middle" font-size="6.75" fill="#5e5e5e" font-family="'Liberation Sans', sans-serif">40</text>
<text x="201.32" y="300.55" text-anchor="middle" font-size="6.75" fill="#5e5e5e" font-family="'Liberation Sans', sans-serif">60</text>
<text x="217.67" y="300.55" text-anchor="middle" font-size="6.75" fill="#5e5e5e" font-family="'Liberation Sans', sans-serif">80</text>
<text x="234.02" y="300.55" text-anchor="middle" font-size="6.75" fill="#5e5e5e" font-family="'Liberation Sans', sans-serif">100</text>
<text x="192.95" y="314.75" text-anchor="middle" font-size="6.9" textLength="44.2" lengthAdjust="spacingAndGlyphs" fill="#5e5e5e" font-family="'Liberation Sans', sans-serif">Sowing date B</text>
<text x="250.38" y="300.55" text-anchor="middle" font-size="6.75" fill="#5e5e5e" font-family="'Liberation Sans', sans-serif">0</text>
<text x="266.72" y="300.55" text-anchor="middle" font-size="6.75" fill="#5e5e5e" font-family="'Liberation Sans', sans-serif">20</text>
<text x="283.07" y="300.55" text-anchor="middle" font-size="6.75" fill="#5e5e5e" font-family="'Liberation Sans', sans-serif">40</text>
<text x="299.43" y="300.55" text-anchor="middle" font-size="6.75" fill="#5e5e5e" font-family="'Liberation Sans', sans-serif">60</text>
<text x="315.77" y="300.55" text-anchor="middle" font-size="6.75" fill="#5e5e5e" font-family="'Liberation Sans', sans-serif">80</text>
<text x="332.12" y="300.55" text-anchor="middle" font-size="6.75" fill="#5e5e5e" font-family="'Liberation Sans', sans-serif">100</text>
<text x="291.05" y="314.75" text-anchor="middle" font-size="6.9" textLength="44.2" lengthAdjust="spacingAndGlyphs" fill="#5e5e5e" font-family="'Liberation Sans', sans-serif">Sowing date C</text>
<text x="348.47" y="300.55" text-anchor="middle" font-size="6.75" fill="#5e5e5e" font-family="'Liberation Sans', sans-serif">0</text>
<text x="364.82" y="300.55" text-anchor="middle" font-size="6.75" fill="#5e5e5e" font-family="'Liberation Sans', sans-serif">20</text>
<text x="381.17" y="300.55" text-anchor="middle" font-size="6.75" fill="#5e5e5e" font-family="'Liberation Sans', sans-serif">40</text>
<text x="397.52" y="300.55" text-anchor="middle" font-size="6.75" fill="#5e5e5e" font-family="'Liberation Sans', sans-serif">60</text>
<text x="413.87" y="300.55" text-anchor="middle" font-size="6.75" fill="#5e5e5e" font-family="'Liberation Sans', sans-serif">80</text>
<text x="430.22" y="300.55" text-anchor="middle" font-size="6.75" fill="#5e5e5e" font-family="'Liberation Sans', sans-serif">100</text>
<text x="389.15" y="314.75" text-anchor="middle" font-size="6.9" textLength="44.2" lengthAdjust="spacingAndGlyphs" fill="#5e5e5e" font-family="'Liberation Sans', sans-serif">Sowing date D</text>
<text x="446.57" y="300.55" text-anchor="middle" font-size="6.75" fill="#5e5e5e" font-family="'Liberation Sans', sans-serif">0</text>
<text x="462.92" y="300.55" text-anchor="middle" font-size="6.75" fill="#5e5e5e" font-family="'Liberation Sans', sans-serif">20</text>
<text x="479.27" y="300.55" text-anchor="middle" font-size="6.75" fill="#5e5e5e" font-family="'Liberation Sans', sans-serif">40</text>
<text x="495.62" y="300.55" text-anchor="middle" font-size="6.75" fill="#5e5e5e" font-family="'Liberation Sans', sans-serif">60</text>
<text x="511.97" y="300.55" text-anchor="middle" font-size="6.75" fill="#5e5e5e" font-family="'Liberation Sans', sans-serif">80</text>
<text x="528.33" y="300.55" text-anchor="middle" font-size="6.75" fill="#5e5e5e" font-family="'Liberation Sans', sans-serif">100</text>
<text x="487.25" y="314.75" text-anchor="middle" font-size="6.9" textLength="44.2" lengthAdjust="spacingAndGlyphs" fill="#5e5e5e" font-family="'Liberation Sans', sans-serif">Sowing date E</text>
<text x="291.15" y="328.60" text-anchor="middle" font-size="8" font-weight="bold" fill="#565656" textLength="173" lengthAdjust="spacingAndGlyphs" font-family="'Liberation Sans', sans-serif">Irrigation treatments with different sowing dates</text>
<text transform="translate(19.40 243.25) rotate(-90)" text-anchor="middle" font-size="8" font-weight="bold" fill="#626262" textLength="88.4" lengthAdjust="spacingAndGlyphs" font-family="'Liberation Sans', sans-serif">Number of grains per ear</text>
</g></svg></body></html>
